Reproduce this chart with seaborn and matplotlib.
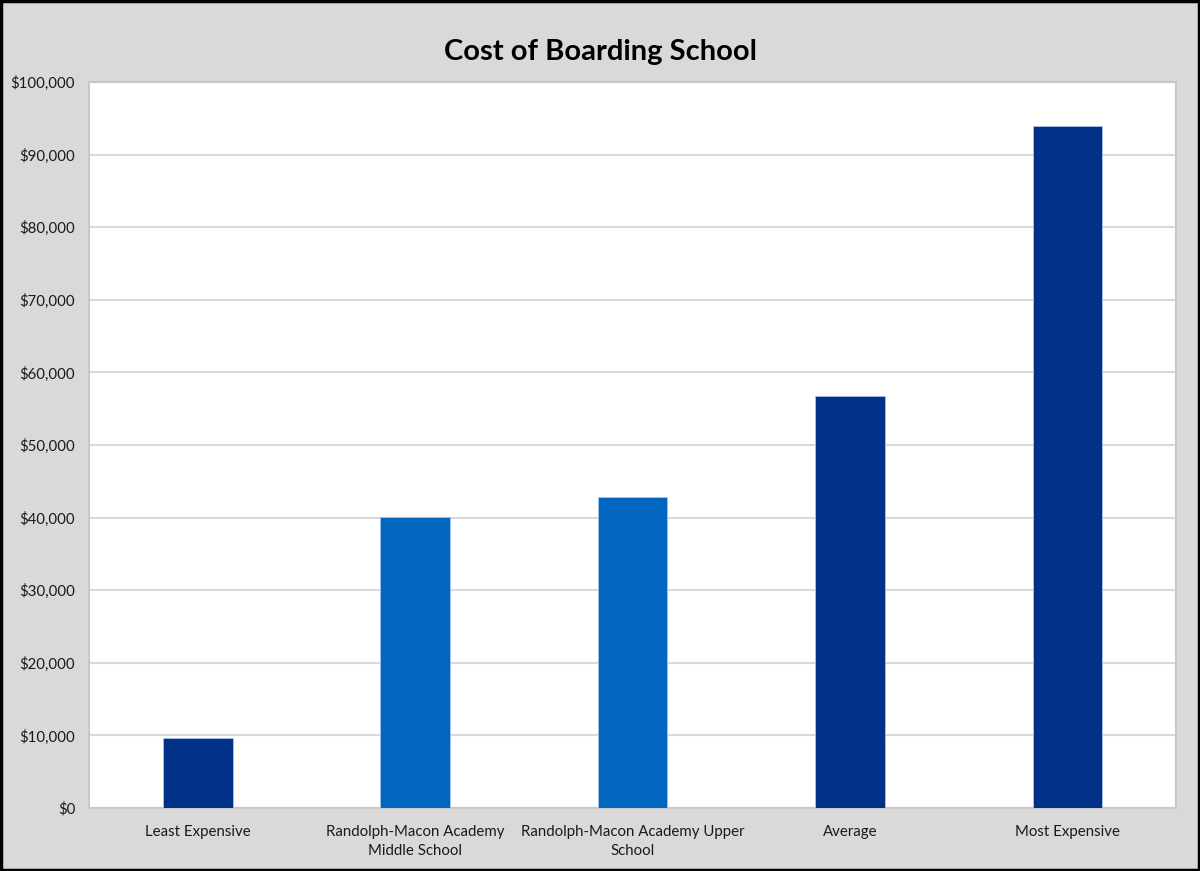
import matplotlib
matplotlib.use('Agg')
import matplotlib.pyplot as plt
import matplotlib.ticker as mtick
import seaborn as sns
import pandas as pd

categories = ['Least Expensive',
              'Randolph-Macon Academy\nMiddle School',
              'Randolph-Macon Academy Upper\nSchool',
              'Average',
              'Most Expensive']
costs = [9700, 40100, 42800, 56700, 94000]
colors = ['#003087', '#0066c0', '#0066c0', '#003087', '#003087']

df = pd.DataFrame({'category': categories, 'cost': costs})

sns.set_style('white')
plt.rcParams['font.family'] = ['Lato', 'DejaVu Sans']

fig = plt.figure(figsize=(12, 8.71), dpi=100, facecolor='#d9d9d9')
ax = fig.add_axes([0.0742, 0.0723, 0.9058, 0.8336])
ax.set_facecolor('white')

sns.barplot(data=df, x='category', y='cost', hue='category',
            palette=colors, saturation=1, width=0.32, legend=False, ax=ax,
            edgecolor='#a9c4e8', linewidth=0.6, zorder=3)

ax.set_ylim(0, 100000)
ax.set_yticks(range(0, 100001, 10000))
ax.yaxis.set_major_formatter(mtick.StrMethodFormatter('${x:,.0f}'))
ax.grid(axis='y', color='#d9d9d9', linewidth=1.5, zorder=0)
ax.set_axisbelow(True)
ax.set_xlabel('')
ax.set_ylabel('')
ax.tick_params(axis='both', length=0, labelsize=10.8, colors='#1a1a1a')
ax.tick_params(axis='x', pad=12)
ax.tick_params(axis='y', pad=10)
for lbl in ax.get_xticklabels():
    lbl.set_linespacing(1.45)
for s in ax.spines.values():
    s.set_color('#c8c8c8')
    s.set_linewidth(1.5)

fig.text(0.5, 0.94, 'Cost of Boarding School', ha='center', va='center',
         fontsize=21, fontweight='bold', color='black')

# outer black frame
fig.patches.append(plt.Rectangle((0.001, 0.001), 0.998, 0.998, transform=fig.transFigure,
                                 fill=False, edgecolor='black', linewidth=2.5))

fig.savefig('out.png', dpi=100, facecolor=fig.get_facecolor())
